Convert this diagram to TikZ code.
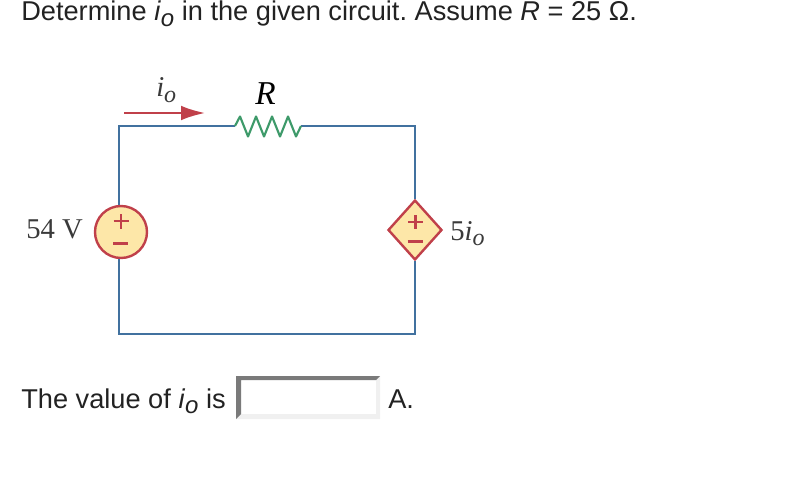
\documentclass[tikz,border=0pt]{standalone}
\usepackage{fontspec}
\setmainfont{Liberation Sans}
\newfontfamily\circfont{Liberation Serif}
\usetikzlibrary{shapes.geometric,arrows.meta}
\definecolor{wire}{HTML}{41719F}
\definecolor{redc}{HTML}{C0404A}
\definecolor{fillc}{HTML}{FDE7A8}
\definecolor{resc}{HTML}{3E9A6A}
\definecolor{inkc}{HTML}{222222}
\definecolor{circink}{HTML}{3A3A3A}
\tikzset{
  wireline/.style={draw=wire,line width=1.5pt},
  txt/.style={inner sep=0pt,anchor=base west,text=inkc,font=\fontsize{20.4}{24}\selectfont},
  lab/.style={inner sep=0pt,text=circink,font=\circfont\fontsize{21.5}{24}\selectfont},
  srcsym/.style={draw=redc,fill=fillc,line width=1.8pt,inner sep=0pt},
  sign/.style={draw=redc,line width=1.9pt},
}
\frenchspacing
\begin{document}
\begin{tikzpicture}[x=0.75pt,y=-0.75pt]
\useasboundingbox (0,0) rectangle (786,478);
% text
\node[txt] (title) at (21,21) {Determine \textit{i}\raisebox{-0.35ex}{\fontsize{18}{18}\selectfont\textit{o}} in the given circuit. Assume \textit{R} = 25 Ω.};
\node[txt] (value) at (21,408) {The value of \textit{i}\raisebox{-0.35ex}{\fontsize{18}{18}\selectfont\textit{o}} is};
\node[txt] (unit) at (388,408) {A.};
% corners
\coordinate (tl) at (119,126);
\coordinate (tr) at (415,126);
\coordinate (bl) at (119,334);
\coordinate (br) at (415,334);
\coordinate (ra) at (235,126);
\coordinate (rb) at (301,126);
% sources
\node[circle,srcsym,minimum size=39pt] (vs) at (121,232) {};
\node[diamond,srcsym,minimum width=40.5pt,minimum height=45pt] (cs) at (415,230) {};
% wires
\draw[wireline] (ra) -- (tl) -- (vs.north -| tl);
\draw[wireline] (vs.south -| bl) -- (bl) -- (br) -- (cs.south);
\draw[wireline] (cs.north) -- (tr) -- (rb);
% resistor
\draw[draw=resc,line width=1.6pt,line join=round] (ra) -- (240,116.5) -- (248,136.5) -- (256,116.5) -- (264,136.5) -- (272,116.5) -- (280,136.5) -- (288,116.5) -- (296,136.5) -- (rb);
% signs
\draw[sign] (113.5,221) -- (128.5,221) (121,214) -- (121,228.5);
\draw[sign] (113,243.5) -- (128,243.5);
\draw[sign] (408,222) -- (423,222) (415.5,215) -- (415.5,229);
\draw[sign] (407.5,241.5) -- (422.5,241.5);
% current arrow
\coordinate (aa) at (124,113);
\coordinate (ab) at (205,113);
\draw[draw=redc,line width=1.5pt,-{Latex[length=18pt,width=11pt,color=redc]}] (aa) -- (ab);
% labels
\node[lab,anchor=base west] (io) at (156,97) {\textit{i}\raisebox{-0.4ex}{\fontsize{18}{18}\selectfont\textit{o}}};
\node[lab,anchor=base west,text=black,font=\circfont\fontsize{25}{28}\selectfont] (rl) at (255,105) {\textit{R}};
\node[lab,anchor=base west] (vl) at (26,238) {54 V};
\node[lab,anchor=base west] (cl) at (450,240) {5\textit{i}\raisebox{-0.4ex}{\fontsize{18}{18}\selectfont\textit{o}}};
% answer box
\fill[black!6] (236,419) -- (380,419) -- (380,376) -- (376,380) -- (376,414) -- (241,414) -- cycle;
\fill[black!52] (236,419) -- (236,376) -- (380,376) -- (376,380) -- (241,380) -- (241,414) -- cycle;
\end{tikzpicture}
\end{document}
